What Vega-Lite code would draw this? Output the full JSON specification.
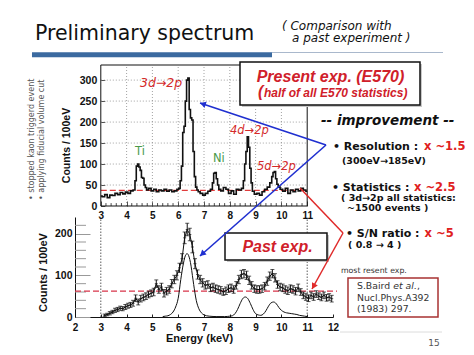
{
  "$schema": "https://vega.github.io/schema/vega-lite/v6.json",
  "width": 474,
  "height": 355,
  "autosize": "none",
  "padding": 0,
  "background": "white",
  "config": {
    "view": {"stroke": null},
    "axis": {"labelFont": "Liberation Sans", "labelFontWeight": "bold", "labelColor": "#111", "titleFont": "Liberation Sans", "titleFontWeight": "bold", "titleColor": "#111", "tickColor": "#222", "domainColor": "#111", "grid": false, "labelFlush": false}
  },
  "datasets": {
    "one": [{}],
    "gx": [{"v": 4}, {"v": 5}, {"v": 6}, {"v": 7}, {"v": 8}, {"v": 9}, {"v": 10}],
    "gy": [{"v": 50}, {"v": 100}, {"v": 150}, {"v": 200}, {"v": 250}, {"v": 300}],
    "vl": [{"v": 3}, {"v": 11}],
    "tmx": [{"t":3.2},{"t":3.4},{"t":3.6},{"t":3.8},{"t":4.2},{"t":4.4},{"t":4.6},{"t":4.8},{"t":5.2},{"t":5.4},{"t":5.6},{"t":5.8},{"t":6.2},{"t":6.4},{"t":6.6},{"t":6.8},
            {"t":7.2},{"t":7.4},{"t":7.6},{"t":7.8},{"t":8.2},{"t":8.4},{"t":8.6},{"t":8.8},{"t":9.2},{"t":9.4},{"t":9.6},{"t":9.8},{"t":10.2},{"t":10.4},{"t":10.6},{"t":10.8}],
    "bmy": [{"t":20},{"t":40},{"t":60},{"t":80},{"t":120},{"t":140},{"t":160},{"t":180},{"t":220}],
    "top": [
      {"e":3.0,"c":24},{"e":3.1,"c":22},{"e":3.2,"c":27},{"e":3.3,"c":20},{"e":3.4,"c":26},{"e":3.5,"c":25},{"e":3.6,"c":30},{"e":3.7,"c":27},{"e":3.8,"c":32},{"e":3.9,"c":29},
      {"e":4.0,"c":33},{"e":4.1,"c":30},{"e":4.2,"c":36},{"e":4.3,"c":38},{"e":4.35,"c":60},{"e":4.4,"c":95},{"e":4.45,"c":100},{"e":4.5,"c":93},{"e":4.55,"c":85},{"e":4.6,"c":68},
      {"e":4.65,"c":66},{"e":4.7,"c":50},{"e":4.75,"c":44},{"e":4.8,"c":38},{"e":4.9,"c":42},{"e":5.0,"c":36},{"e":5.1,"c":40},{"e":5.2,"c":34},{"e":5.3,"c":38},{"e":5.4,"c":36},
      {"e":5.5,"c":40},{"e":5.6,"c":35},{"e":5.7,"c":38},{"e":5.8,"c":34},{"e":5.9,"c":36},{"e":6.0,"c":40},{"e":6.05,"c":42},{"e":6.1,"c":60},{"e":6.15,"c":95},{"e":6.2,"c":175},
      {"e":6.25,"c":190},{"e":6.3,"c":250},{"e":6.35,"c":300},{"e":6.4,"c":305},{"e":6.45,"c":230},{"e":6.5,"c":210},{"e":6.55,"c":205},{"e":6.6,"c":130},{"e":6.65,"c":70},{"e":6.7,"c":45},
      {"e":6.75,"c":38},{"e":6.8,"c":34},{"e":6.9,"c":30},{"e":7.0,"c":26},{"e":7.1,"c":30},{"e":7.2,"c":35},{"e":7.3,"c":40},{"e":7.35,"c":55},{"e":7.4,"c":78},{"e":7.45,"c":80},
      {"e":7.5,"c":65},{"e":7.55,"c":50},{"e":7.6,"c":40},{"e":7.7,"c":36},{"e":7.8,"c":44},{"e":7.9,"c":40},{"e":8.0,"c":30},{"e":8.1,"c":36},{"e":8.2,"c":28},{"e":8.3,"c":40},
      {"e":8.4,"c":38},{"e":8.5,"c":42},{"e":8.55,"c":60},{"e":8.6,"c":100},{"e":8.65,"c":130},{"e":8.7,"c":165},{"e":8.75,"c":140},{"e":8.8,"c":90},{"e":8.85,"c":55},{"e":8.9,"c":35},
      {"e":9.0,"c":28},{"e":9.1,"c":30},{"e":9.2,"c":26},{"e":9.3,"c":34},{"e":9.4,"c":40},{"e":9.5,"c":45},{"e":9.6,"c":55},{"e":9.65,"c":70},{"e":9.7,"c":80},{"e":9.75,"c":82},
      {"e":9.8,"c":65},{"e":9.85,"c":52},{"e":9.9,"c":45},{"e":10.0,"c":40},{"e":10.1,"c":35},{"e":10.2,"c":42},{"e":10.3,"c":30},{"e":10.4,"c":38},{"e":10.5,"c":34},{"e":10.6,"c":40},
      {"e":10.7,"c":36},{"e":10.8,"c":42},{"e":10.9,"c":38},{"e":11.0,"c":35}
    ],
    "bot": [
      {"e":3.15,"c":4,"err":3},{"e":3.25,"c":6,"err":3},{"e":3.35,"c":9,"err":4},{"e":3.45,"c":12,"err":4},{"e":3.55,"c":16,"err":5},{"e":3.65,"c":18,"err":5},{"e":3.75,"c":21,"err":5},{"e":3.85,"c":20,"err":5},{"e":3.95,"c":24,"err":6},{"e":4.05,"c":27,"err":6},
      {"e":4.15,"c":29,"err":6},{"e":4.25,"c":33,"err":7},{"e":4.35,"c":45,"err":8},{"e":4.45,"c":36,"err":7},{"e":4.55,"c":44,"err":8},{"e":4.65,"c":47,"err":8},{"e":4.75,"c":50,"err":8},{"e":4.85,"c":54,"err":8},{"e":4.95,"c":57,"err":8},{"e":5.05,"c":60,"err":9},
      {"e":5.15,"c":80,"err":9},{"e":5.25,"c":66,"err":9},{"e":5.35,"c":72,"err":9},{"e":5.45,"c":57,"err":9},{"e":5.55,"c":62,"err":9},{"e":5.65,"c":66,"err":9},{"e":5.75,"c":80,"err":10},{"e":5.85,"c":90,"err":10},{"e":5.95,"c":100,"err":11},{"e":6.05,"c":118,"err":11},
      {"e":6.15,"c":140,"err":12},{"e":6.25,"c":190,"err":14},{"e":6.35,"c":210,"err":15},{"e":6.45,"c":198,"err":15},{"e":6.55,"c":168,"err":14},{"e":6.65,"c":128,"err":12},{"e":6.75,"c":102,"err":11},{"e":6.85,"c":90,"err":10},{"e":6.95,"c":82,"err":10},{"e":7.05,"c":76,"err":9},
      {"e":7.15,"c":78,"err":9},{"e":7.25,"c":70,"err":9},{"e":7.35,"c":72,"err":9},{"e":7.45,"c":68,"err":9},{"e":7.55,"c":66,"err":9},{"e":7.65,"c":64,"err":9},{"e":7.75,"c":60,"err":8},{"e":7.85,"c":63,"err":9},{"e":7.95,"c":68,"err":9},{"e":8.05,"c":70,"err":9},
      {"e":8.15,"c":66,"err":9},{"e":8.25,"c":76,"err":9},{"e":8.35,"c":90,"err":10},{"e":8.45,"c":102,"err":10},{"e":8.55,"c":104,"err":10},{"e":8.65,"c":100,"err":10},{"e":8.75,"c":88,"err":10},{"e":8.85,"c":76,"err":9},{"e":8.95,"c":68,"err":9},{"e":9.05,"c":66,"err":9},
      {"e":9.15,"c":66,"err":9},{"e":9.25,"c":68,"err":9},{"e":9.35,"c":74,"err":9},{"e":9.45,"c":86,"err":10},{"e":9.55,"c":98,"err":10},{"e":9.65,"c":104,"err":10},{"e":9.75,"c":94,"err":10},{"e":9.85,"c":78,"err":9},{"e":9.95,"c":72,"err":9},{"e":10.05,"c":70,"err":9},
      {"e":10.15,"c":66,"err":9},{"e":10.25,"c":63,"err":9},{"e":10.35,"c":68,"err":9},{"e":10.45,"c":66,"err":9},{"e":10.55,"c":62,"err":9},{"e":10.65,"c":70,"err":9},{"e":10.75,"c":60,"err":8},{"e":10.85,"c":52,"err":8},{"e":10.95,"c":48,"err":8},{"e":11.05,"c":45,"err":8},
      {"e":11.15,"c":52,"err":8},{"e":11.25,"c":48,"err":8},{"e":11.35,"c":55,"err":8},{"e":11.45,"c":50,"err":8},{"e":11.55,"c":47,"err":8},{"e":11.65,"c":52,"err":8},{"e":11.75,"c":46,"err":8},{"e":11.85,"c":48,"err":8},{"e":11.95,"c":44,"err":8}
    ],
    "fit": [
      {"e":5.4,"v":1},{"e":5.5,"v":2},{"e":5.6,"v":3},{"e":5.7,"v":6},{"e":5.8,"v":12},{"e":5.9,"v":24},{"e":6.0,"v":45},{"e":6.1,"v":90},{"e":6.2,"v":128},{"e":6.3,"v":150},
      {"e":6.35,"v":152},{"e":6.4,"v":148},{"e":6.5,"v":122},{"e":6.55,"v":100},{"e":6.6,"v":78},{"e":6.7,"v":40},{"e":6.8,"v":20},{"e":6.9,"v":10},{"e":7.0,"v":5},{"e":7.2,"v":2},
      {"e":7.5,"v":1},{"e":7.8,"v":1},{"e":8.0,"v":2},{"e":8.1,"v":3},{"e":8.2,"v":8},{"e":8.3,"v":18},{"e":8.4,"v":32},{"e":8.5,"v":44},{"e":8.6,"v":48},{"e":8.7,"v":44},
      {"e":8.8,"v":32},{"e":8.9,"v":18},{"e":9.0,"v":8},{"e":9.1,"v":5},{"e":9.2,"v":4},{"e":9.3,"v":7},{"e":9.4,"v":15},{"e":9.5,"v":26},{"e":9.6,"v":34},{"e":9.7,"v":36},
      {"e":9.8,"v":32},{"e":9.9,"v":23},{"e":10.0,"v":16},{"e":10.1,"v":12},{"e":10.2,"v":10},{"e":10.3,"v":9},{"e":10.4,"v":8},{"e":10.5,"v":7},{"e":10.6,"v":6},{"e":10.7,"v":4},
      {"e":10.8,"v":3},{"e":10.9,"v":2},{"e":11.0,"v":1}
    ]
  },
  "layer": [
    {
      "layer": [
        {
          "data": {"name": "gx"},
          "mark": {"type": "rule", "color": "#8a8a8a", "strokeDash": [1, 2], "strokeWidth": 0.8},
          "encoding": {
            "x": {"field": "v", "type": "quantitative"},
            "y": {"datum": 0, "type": "quantitative"},
            "y2": {"datum": 336}
          }
        },
        {
          "data": {"name": "gy"},
          "mark": {"type": "rule", "color": "#8a8a8a", "strokeDash": [1, 2], "strokeWidth": 0.8},
          "encoding": {
            "y": {"field": "v", "type": "quantitative", "title": "Counts / 100eV"},
            "x": {"datum": 3, "type": "quantitative"},
            "x2": {"datum": 11}
          }
        },
        {
          "data": {"name": "tmx"},
          "mark": {"type": "rule", "color": "#222", "strokeWidth": 0.8},
          "encoding": {
            "x": {"field": "t", "type": "quantitative"},
            "y": {"datum": 0, "type": "quantitative"},
            "y2": {"datum": 7}
          }
        },
        {
          "data": {"name": "one"},
          "mark": {"type": "rule", "color": "#e03c3c", "strokeDash": [6, 3], "strokeWidth": 1.3},
          "encoding": {
            "y": {"datum": 37, "type": "quantitative"},
            "x": {"datum": 3, "type": "quantitative"},
            "x2": {"datum": 11}
          }
        },
        {
          "data": {"name": "top"},
          "mark": {"type": "line", "interpolate": "step", "color": "#111", "strokeWidth": 1.6},
          "encoding": {
            "x": {"field": "e", "type": "quantitative", "scale": {"domain": [2, 12], "range": [75, 333], "nice": false, "zero": false},
              "axis": {"orient": "bottom", "offset": -149, "title": null, "domain": false,
                "values": [3,4,5,6,7,8,9,10,11], "format": "d", "labelOverlap": false,
                "tickSize": -5, "tickWidth": 0.8, "labelPadding": 9, "labelFontSize": 10}},
            "y": {"field": "c", "type": "quantitative", "scale": {"domain": [0, 336], "range": [206, 65], "nice": false, "zero": false},
              "axis": {"orient": "left", "offset": -100.8, "domain": false,
                "values": [0,50,100,150,200,250,300], "format": "d", "labelOverlap": false,
                "tickSize": -4, "tickWidth": 0.8, "labelPadding": 8, "labelFontSize": 10.5,
                "title": "Counts / 100eV", "titleX": -29, "titleY": 145, "titleFontSize": 10.5}}
          }
        },
        {
          "data": {"name": "one"},
          "mark": {"type": "rect", "fill": null, "fillOpacity": 0, "stroke": "#111", "strokeWidth": 1},
          "encoding": {
            "x": {"datum": 3, "type": "quantitative"}, "x2": {"datum": 11},
            "y": {"datum": 0, "type": "quantitative"}, "y2": {"datum": 336}
          }
        },
        {
          "data": {"name": "one"},
          "mark": {"type": "text", "align": "left", "baseline": "alphabetic", "font": "DejaVu Sans", "fontStyle": "italic", "fontSize": 12.5, "color": "#d42a2a"},
          "encoding": {"x": {"datum": 4.519, "type": "quantitative"}, "y": {"datum": 283.6, "type": "quantitative"}, "text": {"value": "3d→2p"}}
        },
        {
          "data": {"name": "one"},
          "mark": {"type": "text", "align": "left", "baseline": "alphabetic", "font": "DejaVu Sans", "fontSize": 11.5, "color": "#4a9a4a"},
          "encoding": {"x": {"datum": 4.326, "type": "quantitative"}, "y": {"datum": 121.5, "type": "quantitative"}, "text": {"value": "Ti"}}
        },
        {
          "data": {"name": "one"},
          "mark": {"type": "text", "align": "left", "baseline": "alphabetic", "font": "DejaVu Sans", "fontSize": 11.5, "color": "#4a9a4a"},
          "encoding": {"x": {"datum": 7.349, "type": "quantitative"}, "y": {"datum": 104.9, "type": "quantitative"}, "text": {"value": "Ni"}}
        },
        {
          "data": {"name": "one"},
          "mark": {"type": "text", "align": "left", "baseline": "alphabetic", "font": "DejaVu Sans", "fontStyle": "italic", "fontSize": 11.5, "color": "#d42a2a"},
          "encoding": {"x": {"datum": 8.008, "type": "quantitative"}, "y": {"datum": 171.6, "type": "quantitative"}, "text": {"value": "4d→2p"}}
        },
        {
          "data": {"name": "one"},
          "mark": {"type": "text", "align": "left", "baseline": "alphabetic", "font": "DejaVu Sans", "fontStyle": "italic", "fontSize": 11.5, "color": "#d42a2a"},
          "encoding": {"x": {"datum": 9.054, "type": "quantitative"}, "y": {"datum": 85.8, "type": "quantitative"}, "text": {"value": "5d→2p"}}
        }
      ]
    },
    {
      "layer": [
        {
          "data": {"name": "vl"},
          "mark": {"type": "rule", "color": "#333", "strokeDash": [1.5, 1.5], "strokeWidth": 0.8},
          "encoding": {
            "x": {"field": "v", "type": "quantitative", "title": "Energy (keV)"},
            "y": {"datum": 0, "type": "quantitative"},
            "y2": {"datum": 237.6}
          }
        },
        {
          "data": {"name": "bmy"},
          "mark": {"type": "rule", "color": "#999", "strokeWidth": 1},
          "encoding": {
            "y": {"field": "t", "type": "quantitative", "title": "Counts / 100eV"},
            "x": {"datum": 2, "type": "quantitative"},
            "x2": {"datum": 2.426}
          }
        },
        {
          "data": {"name": "one"},
          "mark": {"type": "rule", "color": "#d8344a", "strokeDash": [6, 3], "strokeWidth": 1.3},
          "encoding": {
            "y": {"datum": 62, "type": "quantitative"},
            "x": {"datum": 2, "type": "quantitative"},
            "x2": {"datum": 12.155}
          }
        },
        {
          "data": {"name": "fit"},
          "mark": {"type": "line", "interpolate": "monotone", "color": "#111", "strokeWidth": 1},
          "encoding": {
            "x": {"field": "e", "type": "quantitative", "title": "Energy (keV)"},
            "y": {"field": "v", "type": "quantitative", "title": "Counts / 100eV"}
          }
        },
        {
          "data": {"name": "bot"},
          "mark": {"type": "line", "color": "#111", "strokeWidth": 1},
          "encoding": {
            "x": {"field": "e", "type": "quantitative", "scale": {"domain": [2, 12], "range": [75, 333], "nice": false, "zero": false},
              "axis": {"orient": "bottom", "offset": -38, "values": [2,3,4,5,6,7,8,9,10,11,12], "format": "d", "labelOverlap": false,
                "domain": true, "tickSize": -3, "labelPadding": 8, "labelFontSize": 10,
                "title": "Energy (keV)", "titleX": 199, "titleY": 15, "titleFontSize": 11}},
            "y": {"field": "c", "type": "quantitative", "scale": {"domain": [0, 240], "range": [317, 217], "nice": false, "zero": false},
              "axis": {"orient": "left", "offset": -75, "values": [0,100,200], "format": "d", "labelOverlap": false,
                "domain": true, "tickColor": "#999", "tickSize": -15, "tickWidth": 1,
                "labelPadding": 18, "labelFontSize": 10.5,
                "title": "Counts / 100eV", "titleX": -26.7, "titleY": 272, "titleFontSize": 11}}
          }
        },
        {
          "data": {"name": "bot"},
          "mark": {"type": "errorbar", "ticks": {"size": 4}, "color": "#111", "thickness": 1},
          "encoding": {
            "x": {"field": "e", "type": "quantitative", "title": "Energy (keV)"},
            "y": {"field": "c", "type": "quantitative", "title": "Counts / 100eV"},
            "yError": {"field": "err"}
          }
        },
        {
          "data": {"name": "bot"},
          "mark": {"type": "tick", "orient": "horizontal", "size": 3, "thickness": 1, "color": "#111"},
          "encoding": {
            "x": {"field": "e", "type": "quantitative", "title": "Energy (keV)"},
            "y": {"field": "c", "type": "quantitative", "title": "Counts / 100eV"}
          }
        },
        {
          "data": {"name": "one"},
          "mark": {"type": "text", "align": "left", "baseline": "alphabetic", "font": "DejaVu Sans", "fontSize": 20.5, "color": "#111"},
          "encoding": {"x": {"datum": 0.45, "type": "quantitative"}, "y": {"datum": 666, "type": "quantitative"}, "text": {"value": "Preliminary spectrum"}}
        },
        {
          "data": {"name": "one"},
          "mark": {"type": "text", "align": "left", "baseline": "alphabetic", "font": "DejaVu Sans", "fontStyle": "italic", "fontSize": 12, "color": "#111"},
          "encoding": {"x": {"datum": 10.023, "type": "quantitative"}, "y": {"datum": 689.5, "type": "quantitative"}, "text": {"value": "( Comparison with"}}
        },
        {
          "data": {"name": "one"},
          "mark": {"type": "text", "align": "left", "baseline": "alphabetic", "font": "DejaVu Sans", "fontStyle": "italic", "fontSize": 12, "color": "#111"},
          "encoding": {"x": {"datum": 10.411, "type": "quantitative"}, "y": {"datum": 661, "type": "quantitative"}, "text": {"value": "a past experiment )"}}
        },
        {
          "data": {"name": "one"},
          "mark": {"type": "rect", "fill": "#3b6aa0"},
          "encoding": {"x": {"datum": 0.333, "type": "quantitative"}, "x2": {"datum": 9.636}, "y": {"datum": 635.3, "type": "quantitative"}, "y2": {"datum": 623.3}}
        },
        {
          "data": {"name": "one"},
          "mark": {"type": "rule", "color": "#a9b8cc", "strokeWidth": 1},
          "encoding": {"x": {"datum": 9.636, "type": "quantitative"}, "x2": {"datum": 16.264}, "y": {"datum": 634.8, "type": "quantitative"}}
        },
        {
          "data": {"name": "one"},
          "mark": {"type": "text", "align": "left", "baseline": "middle", "angle": 270, "font": "DejaVu Sans", "fontSize": 8, "color": "#555"},
          "encoding": {"x": {"datum": 0.322, "type": "quantitative"}, "y": {"datum": 280.8, "type": "quantitative"}, "text": {"value": "• stopped kaon triggerd event"}}
        },
        {
          "data": {"name": "one"},
          "mark": {"type": "text", "align": "left", "baseline": "middle", "angle": 270, "font": "DejaVu Sans", "fontSize": 8, "color": "#555"},
          "encoding": {"x": {"datum": 0.709, "type": "quantitative"}, "y": {"datum": 280.8, "type": "quantitative"}, "text": {"value": "• applying fiducial volume cut"}}
        },
        {
          "data": {"name": "one"},
          "mark": {"type": "rect", "fill": "#c8c8c8"},
          "encoding": {"x": {"datum": 8.473, "type": "quantitative"}, "x2": {"datum": 15.45}, "y": {"datum": 607.2, "type": "quantitative"}, "y2": {"datum": 504}}
        },
        {
          "data": {"name": "one"},
          "mark": {"type": "rect", "fill": "white", "stroke": "#111", "strokeWidth": 1.5},
          "encoding": {"x": {"datum": 8.395, "type": "quantitative"}, "x2": {"datum": 15.372}, "y": {"datum": 612, "type": "quantitative"}, "y2": {"datum": 508.8}}
        },
        {
          "data": {"name": "one"},
          "mark": {"type": "text", "align": "center", "baseline": "alphabetic", "font": "Liberation Sans", "fontWeight": "bold", "fontStyle": "italic", "fontSize": 16, "color": "#d0202a"},
          "encoding": {"x": {"datum": 11.903, "type": "quantitative"}, "y": {"datum": 564, "type": "quantitative"}, "text": {"value": "Present exp. (E570)"}}
        },
        {
          "data": {"name": "one"},
          "mark": {"type": "text", "align": "left", "baseline": "alphabetic", "font": "Liberation Sans", "fontWeight": "bold", "fontStyle": "italic", "fontSize": 16, "color": "#d0202a"},
          "encoding": {"x": {"datum": 9.093, "type": "quantitative"}, "y": {"datum": 528, "type": "quantitative"}, "text": {"value": "("}}
        },
        {
          "data": {"name": "one"},
          "mark": {"type": "text", "align": "left", "baseline": "alphabetic", "font": "Liberation Sans", "fontWeight": "bold", "fontStyle": "italic", "fontSize": 12, "color": "#d0202a"},
          "encoding": {"x": {"datum": 9.326, "type": "quantitative"}, "y": {"datum": 528, "type": "quantitative"}, "text": {"value": "half of all E570 statistics)"}}
        },
        {
          "data": {"name": "one"},
          "mark": {"type": "rect", "fill": "#c8c8c8"},
          "encoding": {"x": {"datum": 7.892, "type": "quantitative"}, "x2": {"datum": 11.845}, "y": {"datum": 196.8, "type": "quantitative"}, "y2": {"datum": 132}}
        },
        {
          "data": {"name": "one"},
          "mark": {"type": "rect", "fill": "white", "stroke": "#111", "strokeWidth": 1.5},
          "encoding": {"x": {"datum": 7.814, "type": "quantitative"}, "x2": {"datum": 11.767}, "y": {"datum": 201.6, "type": "quantitative"}, "y2": {"datum": 136.8}}
        },
        {
          "data": {"name": "one"},
          "mark": {"type": "text", "align": "center", "baseline": "alphabetic", "font": "Liberation Sans", "fontWeight": "bold", "fontStyle": "italic", "fontSize": 16, "color": "#d0202a"},
          "encoding": {"x": {"datum": 9.849, "type": "quantitative"}, "y": {"datum": 156, "type": "quantitative"}, "text": {"value": "Past exp."}}
        },
        {
          "data": {"name": "one"},
          "mark": {"type": "rule", "color": "#1f2fd0", "strokeWidth": 1.6},
          "encoding": {"x": {"datum": 6.845, "type": "quantitative"}, "x2": {"datum": 11.729}, "y": {"datum": 513.6, "type": "quantitative"}, "y2": {"datum": 412.8}}
        },
        {
          "data": {"name": "one"},
          "mark": {"type": "rule", "color": "#1f2fd0", "strokeWidth": 1.6},
          "encoding": {"x": {"datum": 11.729, "type": "quantitative"}, "x2": {"datum": 6.845}, "y": {"datum": 412.8, "type": "quantitative"}, "y2": {"datum": 146.4}}
        },
        {
          "data": {"name": "one"},
          "mark": {"type": "point", "shape": "triangle-up", "filled": true, "size": 45, "angle": 288.6, "color": "#1f2fd0", "opacity": 1},
          "encoding": {"x": {"datum": 6.954, "type": "quantitative"}, "y": {"datum": 511.2, "type": "quantitative"}}
        },
        {
          "data": {"name": "one"},
          "mark": {"type": "point", "shape": "triangle-up", "filled": true, "size": 45, "angle": 228.4, "color": "#1f2fd0", "opacity": 1},
          "encoding": {"x": {"datum": 6.93, "type": "quantitative"}, "y": {"datum": 151.2, "type": "quantitative"}}
        },
        {
          "data": {"name": "one"},
          "mark": {"type": "rule", "color": "#e02a2a", "strokeWidth": 1.5},
          "encoding": {"x": {"datum": 10.721, "type": "quantitative"}, "x2": {"datum": 12.388}, "y": {"datum": 309.6, "type": "quantitative"}, "y2": {"datum": 201.6}}
        },
        {
          "data": {"name": "one"},
          "mark": {"type": "rule", "color": "#e02a2a", "strokeWidth": 1.5},
          "encoding": {"x": {"datum": 12.388, "type": "quantitative"}, "x2": {"datum": 11.186}, "y": {"datum": 201.6, "type": "quantitative"}, "y2": {"datum": 67.2}}
        },
        {
          "data": {"name": "one"},
          "mark": {"type": "point", "shape": "triangle-up", "filled": true, "size": 45, "angle": 209, "color": "#e02a2a", "opacity": 1},
          "encoding": {"x": {"datum": 11.244, "type": "quantitative"}, "y": {"datum": 73.4, "type": "quantitative"}}
        },
        {
          "data": {"name": "one"},
          "mark": {"type": "text", "align": "left", "baseline": "alphabetic", "font": "DejaVu Sans", "fontWeight": "bold", "fontStyle": "italic", "fontSize": 13.5, "color": "#111"},
          "encoding": {"x": {"datum": 11.535, "type": "quantitative"}, "y": {"datum": 460.8, "type": "quantitative"}, "text": {"value": "-- improvement --"}}
        },
        {
          "data": {"name": "one"},
          "mark": {"type": "text", "align": "left", "baseline": "alphabetic", "font": "DejaVu Sans", "fontWeight": "bold", "fontSize": 11, "color": "#111"},
          "encoding": {"x": {"datum": 12.0, "type": "quantitative"}, "y": {"datum": 400.8, "type": "quantitative"}, "text": {"value": "• Resolution :"}}
        },
        {
          "data": {"name": "one"},
          "mark": {"type": "text", "align": "left", "baseline": "alphabetic", "font": "DejaVu Sans", "fontWeight": "bold", "fontSize": 11.5, "color": "#e02020"},
          "encoding": {"x": {"datum": 15.527, "type": "quantitative"}, "y": {"datum": 400.8, "type": "quantitative"}, "text": {"value": "x ~1.5"}}
        },
        {
          "data": {"name": "one"},
          "mark": {"type": "text", "align": "left", "baseline": "alphabetic", "font": "DejaVu Sans", "fontWeight": "bold", "fontSize": 9.5, "color": "#111"},
          "encoding": {"x": {"datum": 12.349, "type": "quantitative"}, "y": {"datum": 367.2, "type": "quantitative"}, "text": {"value": "(300eV→185eV)"}}
        },
        {
          "data": {"name": "one"},
          "mark": {"type": "text", "align": "left", "baseline": "alphabetic", "font": "DejaVu Sans", "fontWeight": "bold", "fontSize": 11, "color": "#111"},
          "encoding": {"x": {"datum": 11.961, "type": "quantitative"}, "y": {"datum": 302.4, "type": "quantitative"}, "text": {"value": "• Statistics :"}}
        },
        {
          "data": {"name": "one"},
          "mark": {"type": "text", "align": "left", "baseline": "alphabetic", "font": "DejaVu Sans", "fontWeight": "bold", "fontSize": 11.5, "color": "#e02020"},
          "encoding": {"x": {"datum": 15.14, "type": "quantitative"}, "y": {"datum": 302.4, "type": "quantitative"}, "text": {"value": "x ~2.5"}}
        },
        {
          "data": {"name": "one"},
          "mark": {"type": "text", "align": "left", "baseline": "alphabetic", "font": "DejaVu Sans", "fontWeight": "bold", "fontSize": 9.5, "color": "#111"},
          "encoding": {"x": {"datum": 12.31, "type": "quantitative"}, "y": {"datum": 278.4, "type": "quantitative"}, "text": {"value": "( 3d→2p all statistics:"}}
        },
        {
          "data": {"name": "one"},
          "mark": {"type": "text", "align": "left", "baseline": "alphabetic", "font": "DejaVu Sans", "fontWeight": "bold", "fontSize": 9.5, "color": "#111"},
          "encoding": {"x": {"datum": 12.543, "type": "quantitative"}, "y": {"datum": 254.4, "type": "quantitative"}, "text": {"value": "~1500 events )"}}
        },
        {
          "data": {"name": "one"},
          "mark": {"type": "text", "align": "left", "baseline": "alphabetic", "font": "DejaVu Sans", "fontWeight": "bold", "fontSize": 11, "color": "#111"},
          "encoding": {"x": {"datum": 12.504, "type": "quantitative"}, "y": {"datum": 192, "type": "quantitative"}, "text": {"value": "• S/N ratio :"}}
        },
        {
          "data": {"name": "one"},
          "mark": {"type": "text", "align": "left", "baseline": "alphabetic", "font": "DejaVu Sans", "fontWeight": "bold", "fontSize": 11.5, "color": "#e02020"},
          "encoding": {"x": {"datum": 15.55, "type": "quantitative"}, "y": {"datum": 192, "type": "quantitative"}, "text": {"value": "x ~5"}}
        },
        {
          "data": {"name": "one"},
          "mark": {"type": "text", "align": "left", "baseline": "alphabetic", "font": "DejaVu Sans", "fontWeight": "bold", "fontSize": 9.5, "color": "#111"},
          "encoding": {"x": {"datum": 12.581, "type": "quantitative"}, "y": {"datum": 165.6, "type": "quantitative"}, "text": {"value": "( 0.8 → 4 )"}}
        },
        {
          "data": {"name": "one"},
          "mark": {"type": "text", "align": "left", "baseline": "alphabetic", "font": "DejaVu Sans", "fontSize": 7.8, "color": "#333"},
          "encoding": {"x": {"datum": 12.31, "type": "quantitative"}, "y": {"datum": 105.6, "type": "quantitative"}, "text": {"value": "most resent exp."}}
        },
        {
          "data": {"name": "one"},
          "mark": {"type": "rect", "fill": "white", "stroke": "#a83232", "strokeWidth": 1.5},
          "encoding": {"x": {"datum": 12.581, "type": "quantitative"}, "x2": {"datum": 16.07}, "y": {"datum": 93.6, "type": "quantitative"}, "y2": {"datum": 0}}
        },
        {
          "data": {"name": "one"},
          "mark": {"type": "text", "align": "left", "baseline": "alphabetic", "font": "DejaVu Sans", "fontSize": 9.3, "color": "#333"},
          "encoding": {"x": {"datum": 12.93, "type": "quantitative"}, "y": {"datum": 67.2, "type": "quantitative"}, "text": {"value": "S.Baird"}}
        },
        {
          "data": {"name": "one"},
          "mark": {"type": "text", "align": "left", "baseline": "alphabetic", "font": "DejaVu Sans", "fontStyle": "italic", "fontSize": 9.3, "color": "#333"},
          "encoding": {"x": {"datum": 14.337, "type": "quantitative"}, "y": {"datum": 67.2, "type": "quantitative"}, "text": {"value": "et al."}}
        },
        {
          "data": {"name": "one"},
          "mark": {"type": "text", "align": "left", "baseline": "alphabetic", "font": "DejaVu Sans", "fontSize": 9.3, "color": "#333"},
          "encoding": {"x": {"datum": 15.256, "type": "quantitative"}, "y": {"datum": 67.2, "type": "quantitative"}, "text": {"value": ","}}
        },
        {
          "data": {"name": "one"},
          "mark": {"type": "text", "align": "left", "baseline": "alphabetic", "font": "DejaVu Sans", "fontSize": 9.3, "color": "#333"},
          "encoding": {"x": {"datum": 12.93, "type": "quantitative"}, "y": {"datum": 38.4, "type": "quantitative"}, "text": {"value": "Nucl.Phys.A392"}}
        },
        {
          "data": {"name": "one"},
          "mark": {"type": "text", "align": "left", "baseline": "alphabetic", "font": "DejaVu Sans", "fontSize": 9.3, "color": "#333"},
          "encoding": {"x": {"datum": 12.93, "type": "quantitative"}, "y": {"datum": 12, "type": "quantitative"}, "text": {"value": "(1983) 297."}}
        },
        {
          "data": {"name": "one"},
          "mark": {"type": "rule", "color": "#dcdcdc", "strokeWidth": 1},
          "encoding": {"x": {"datum": 12.271, "type": "quantitative"}, "x2": {"datum": 16.225}, "y": {"datum": -36, "type": "quantitative"}}
        },
        {
          "data": {"name": "one"},
          "mark": {"type": "text", "align": "center", "baseline": "alphabetic", "font": "DejaVu Sans", "fontSize": 9, "color": "#555"},
          "encoding": {"x": {"datum": 15.915, "type": "quantitative"}, "y": {"datum": -69.6, "type": "quantitative"}, "text": {"value": "15"}}
        }
      ]
    }
  ],
  "resolve": {"scale": {"y": "independent"}, "axis": {"x": "independent", "y": "independent"}}
}
